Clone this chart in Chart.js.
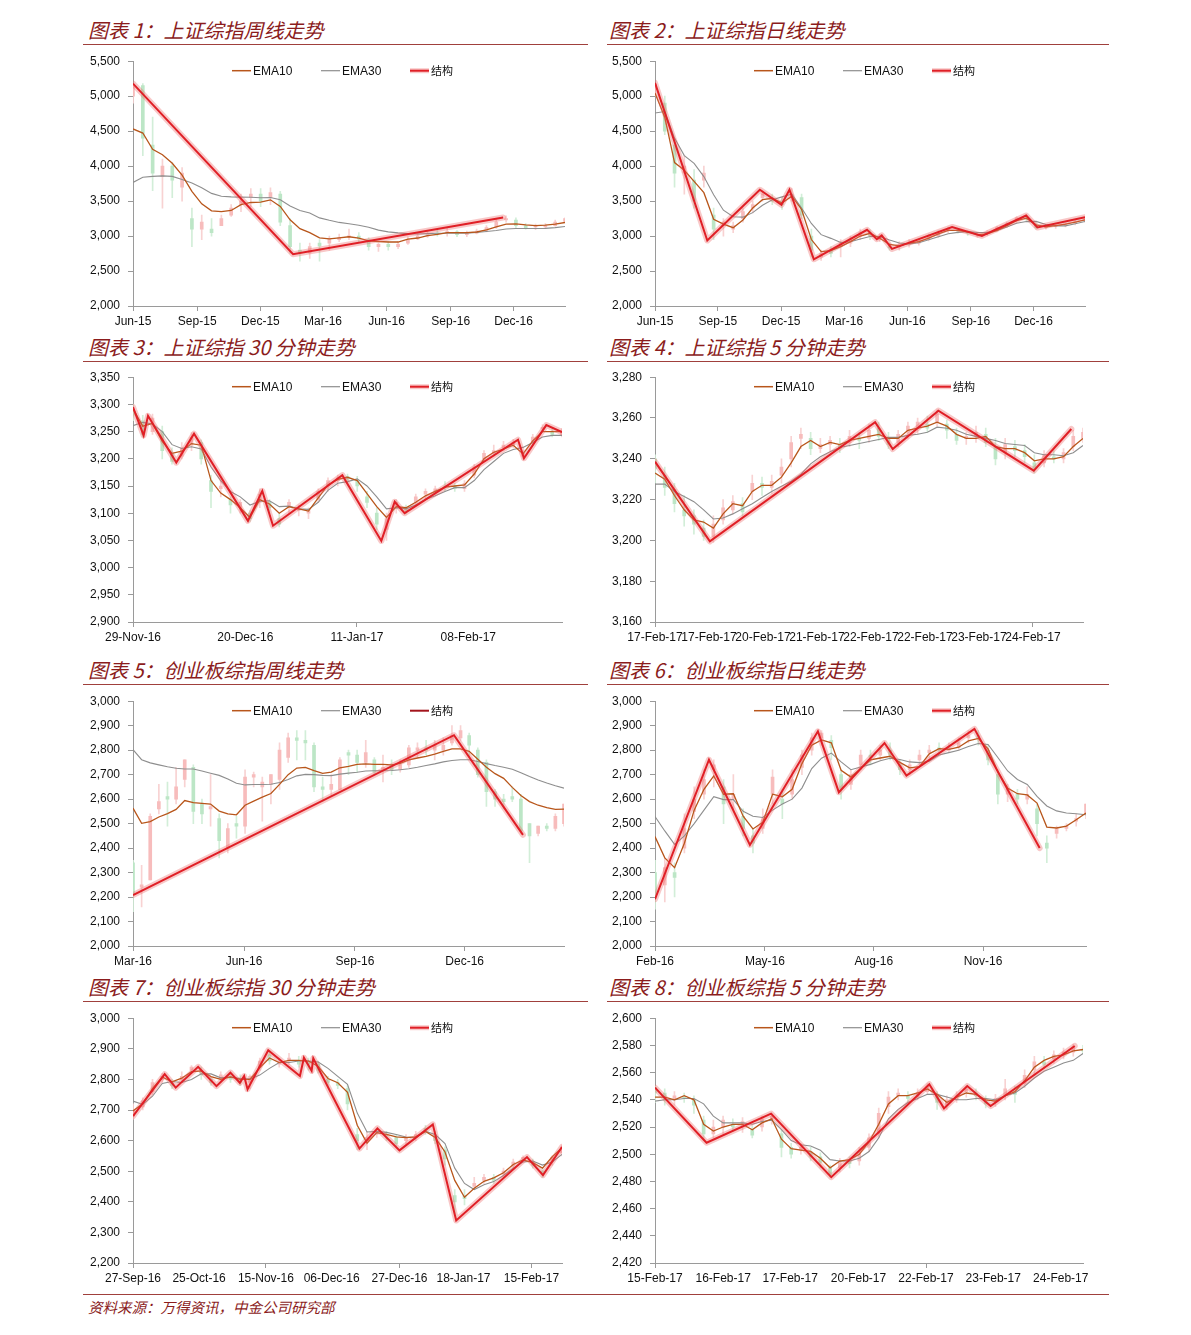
<!DOCTYPE html>
<html lang="zh-CN">
<head>
<meta charset="UTF-8" />
<title>上证综指 / 创业板综指 走势</title>
<script src="https://cdn.jsdelivr.net/npm/chart.js"></script>
<style>
  body {
    margin: 0;
    background: #fff;
    width: 1191px;
    height: 1335px;
    position: relative;
    overflow: hidden;
  }
  .title {
    position: absolute;
    font-family: "Noto Sans CJK SC", sans-serif;
    font-style: italic;
    font-size: 20px;
    line-height: 24px;
    color: #8b1c1c;
    white-space: nowrap;
  }
  .rule {
    position: absolute;
    height: 0;
    border-top: 1.5px solid #a0403c;
  }
  .source {
    position: absolute;
    left: 88px;
    top: 1297px;
    font-family: "Noto Sans CJK SC", sans-serif;
    font-style: italic;
    font-size: 14.5px;
    line-height: 20px;
    color: #8b1c1c;
  }
  canvas { position: absolute; }
</style>
</head>
<body>
  <div class="title" style="left:88px;top:18px">图表 1：上证综指周线走势</div>
  <div class="title" style="left:609px;top:18px">图表 2：上证综指日线走势</div>
  <div class="rule" style="left:83px;top:44px;width:505px"></div>
  <div class="rule" style="left:607px;top:44px;width:502px"></div>

  <div class="title" style="left:88px;top:335px">图表 3：上证综指 30 分钟走势</div>
  <div class="title" style="left:609px;top:335px">图表 4：上证综指 5 分钟走势</div>
  <div class="rule" style="left:83px;top:361px;width:505px"></div>
  <div class="rule" style="left:607px;top:361px;width:502px"></div>

  <div class="title" style="left:88px;top:658px">图表 5：创业板综指周线走势</div>
  <div class="title" style="left:609px;top:658px">图表 6：创业板综指日线走势</div>
  <div class="rule" style="left:83px;top:684px;width:505px"></div>
  <div class="rule" style="left:607px;top:684px;width:502px"></div>

  <div class="title" style="left:88px;top:975px">图表 7：创业板综指 30 分钟走势</div>
  <div class="title" style="left:609px;top:975px">图表 8：创业板综指 5 分钟走势</div>
  <div class="rule" style="left:83px;top:1001px;width:505px"></div>
  <div class="rule" style="left:607px;top:1001px;width:502px"></div>

  <div class="rule" style="left:83px;top:1294px;width:1026px"></div>
  <div class="source">资料来源：万得资讯，中金公司研究部</div>

<script>
// ---------- data: [open, close, high, low] candles, EMA lines, structure pivots ----------

// 图表1 上证综指周线 (one slot = two weeks)
const c1Ticks = [0, 6.54, 12.98, 19.35, 25.82, 32.36, 38.76];
const c1Labels = ['Jun-15', 'Sep-15', 'Dec-15', 'Mar-16', 'Jun-16', 'Sep-16', 'Dec-16'];
const c1Ohlc = [
  [5000,5150,5180,4900],[5150,4400,5180,4150],[4300,3900,4700,3650],[3850,4000,4100,3400],[4000,3800,4050,3550],
  [3700,3900,3980,3500],[3250,3100,3400,2850],[3100,3200,3300,2950],[3100,3050,3250,3000],[3150,3250,3300,3150],
  [3300,3400,3450,3280],[3450,3500,3600,3350],[3550,3600,3680,3420],[3600,3500,3680,3420],[3550,3620,3690,3450],
  [3600,3200,3640,3150],[3150,2850,3250,2750],[2800,2760,2900,2640],[2760,2850,2900,2680],[2900,2860,2950,2640],
  [2900,2960,3000,2800],[2950,2980,3030,2920],[2990,3000,3100,2950],[3000,2960,3050,2920],[2950,2850,2980,2800],
  [2850,2880,2900,2780],[2880,2850,2920,2800],[2850,2880,2920,2820],[2900,2950,2990,2880],[2960,3000,3050,2950],
  [3000,3020,3060,2980],[3040,3030,3100,3000],[3050,3060,3110,3000],[3060,3020,3080,2990],[3020,3040,3070,2990],
  [3040,3070,3100,3030],[3080,3120,3150,3060],[3130,3200,3250,3110],[3230,3250,3290,3200],[3230,3150,3260,3120],
  [3150,3120,3180,3100],[3130,3140,3170,3090],[3130,3150,3180,3110],[3150,3200,3230,3140],[3210,3250,3260,3190]
];
const c1Ema10 = [4531,4473,4240,4163,4040,3870,3640,3460,3360,3350,3366,3450,3480,3485,3518,3423,3232,3105,3050,2975,2960,2975,2990,2970,2930,2922,2915,2915,2955,2972,3005,3025,3050,3050,3050,3058,3090,3130,3170,3175,3160,3150,3155,3170,3194];
const c1Ema30 = [3767,3840,3853,3860,3853,3810,3760,3690,3610,3570,3560,3557,3555,3548,3550,3518,3430,3365,3330,3260,3225,3195,3175,3155,3125,3085,3060,3045,3035,3030,3035,3040,3041,3041,3041,3050,3065,3080,3100,3108,3108,3108,3110,3120,3136];
const c1PivotX = [0, 16.3, 37.7];
const c1PivotY = [5180, 2740, 3265];

// 图表2 上证综指日线
const c2Ticks = [0, 6.44, 12.91, 19.35, 25.82, 32.32, 38.73];
const c2Labels = ['Jun-15', 'Sep-15', 'Dec-15', 'Mar-16', 'Jun-16', 'Sep-16', 'Dec-16'];
const c2Ohlc = [
  [5100,5170,5180,5000],[4900,4500,5000,4450],[4300,3900,4400,3700],[3900,4000,4150,3600],[3800,3500,3950,3400],
  [3800,3900,4000,3700],[3300,3100,3400,2950],[3150,3200,3250,3000],[3100,3150,3200,3050],[3250,3350,3400,3200],
  [3400,3450,3500,3330],[3550,3600,3650,3500],[3550,3500,3600,3450],[3500,3450,3550,3380],[3550,3600,3680,3500],
  [3550,3300,3600,3250],[3000,2800,3100,2700],[2700,2750,2800,2650],[2800,2750,2850,2700],[2850,2900,2950,2700],
  [2900,2950,3000,2850],[3000,3050,3100,2950],[3050,3000,3090,2950],[2950,3000,3030,2920],[2850,2830,2900,2800],
  [2850,2880,2920,2800],[2880,2900,2950,2840],[2900,2930,2960,2870],[2950,3000,3030,2930],[3000,3050,3080,2980],
  [3080,3100,3130,3050],[3080,3070,3100,3040],[3050,3040,3080,3010],[3000,3020,3050,2980],[3040,3060,3080,3010],
  [3080,3120,3140,3060],[3150,3180,3200,3120],[3220,3260,3280,3200],[3260,3240,3300,3220],[3150,3120,3180,3100],
  [3120,3130,3160,3100],[3140,3150,3170,3110],[3150,3160,3190,3130],[3180,3200,3220,3160],[3220,3250,3270,3200]
];
const c2Ema10 = [5046,4700,4050,3940,3781,3620,3240,3170,3120,3230,3400,3520,3540,3471,3570,3380,2950,2778,2793,2850,2920,3000,3040,2969,2880,2860,2900,2920,2970,3030,3080,3080,3060,3020,3030,3080,3150,3220,3256,3160,3130,3150,3170,3200,3232];
const c2Ema30 = [4760,4780,4400,4150,4040,3850,3590,3370,3275,3270,3335,3440,3520,3560,3600,3400,3180,3020,2967,2907,2918,2958,2993,2993,2944,2900,2888,2905,2946,2990,3032,3052,3063,3050,3050,3080,3130,3184,3207,3210,3165,3146,3146,3175,3208];
const c2PivotX = [0, 5.35, 10.73, 12.94, 13.76, 16.25, 21.7, 22.7, 23.2, 24.25, 30.4, 33.45, 37.98, 39.13, 44];
const c2PivotY = [5190, 2936, 3662, 3447, 3662, 2668, 3089, 2955, 3010, 2817, 3130, 3003, 3294, 3122, 3270];

// 图表3 上证综指30分钟
const c3Ticks = [0, 11.52, 22.97, 34.39];
const c3Labels = ['29-Nov-16', '20-Dec-16', '11-Jan-17', '08-Feb-17'];
const c3Ohlc = [
  [3290,3280,3300,3270],[3270,3245,3280,3240],[3250,3275,3282,3245],[3250,3215,3260,3200],[3210,3195,3220,3190],
  [3205,3220,3230,3200],[3225,3240,3248,3215],[3230,3200,3235,3190],[3160,3140,3170,3110],[3145,3150,3160,3130],
  [3125,3115,3130,3100],[3110,3120,3125,3100],[3100,3090,3105,3085],[3120,3135,3145,3110],[3120,3110,3125,3100],
  [3090,3080,3100,3075],[3110,3120,3125,3100],[3105,3110,3115,3095],[3100,3105,3110,3090],[3125,3140,3145,3120],
  [3150,3160,3165,3140],[3160,3165,3170,3150],[3168,3162,3172,3155],[3160,3150,3168,3140],[3130,3120,3140,3110],
  [3100,3080,3110,3070],[3070,3090,3100,3050],[3110,3120,3125,3100],[3110,3105,3115,3098],[3120,3130,3135,3115],
  [3135,3140,3145,3125],[3140,3145,3150,3135],[3150,3148,3158,3140],[3150,3145,3155,3140],[3145,3155,3160,3140],
  [3170,3185,3190,3165],[3200,3210,3215,3195],[3210,3215,3225,3205],[3220,3225,3232,3215],[3225,3230,3236,3220],
  [3205,3210,3215,3200],[3230,3240,3245,3225],[3255,3258,3263,3250],[3250,3245,3255,3240],[3245,3252,3256,3240]
];
const c3Ema10 = [3292,3260,3265,3232,3210,3214,3228,3225,3160,3137,3125,3110,3092,3125,3117,3100,3112,3108,3104,3128,3152,3162,3166,3160,3136,3112,3092,3112,3110,3120,3132,3140,3148,3150,3152,3172,3200,3212,3218,3225,3209,3233,3250,3250,3250];
const c3Ema30 = [3261,3267,3264,3250,3226,3219,3222,3218,3185,3160,3140,3130,3115,3122,3123,3112,3113,3108,3107,3120,3142,3155,3158,3163,3150,3130,3108,3110,3108,3115,3125,3132,3140,3147,3147,3160,3180,3195,3210,3217,3221,3230,3240,3243,3243];
const c3PivotX = [0, 1.09, 1.54, 4.44, 6.26, 11.79, 13.26, 14.36, 21.47, 25.47, 26.84, 27.86, 39.49, 40.1, 42.39, 44];
const c3PivotY = [3295, 3243, 3279, 3193, 3246, 3086, 3141, 3077, 3170, 3049, 3121, 3100, 3235, 3201, 3262, 3249];

// 图表4 上证综指5分钟
const c4Ticks = [0, 5.55, 11.1, 16.65, 22.2, 27.75, 33.3, 38.85];
const c4Labels = ['17-Feb-17', '17-Feb-17', '20-Feb-17', '21-Feb-17', '22-Feb-17', '22-Feb-17', '23-Feb-17', '24-Feb-17'];
const c4Ohlc = [
  [3240,3235,3242,3228],[3232,3226,3236,3222],[3225,3218,3228,3214],[3215,3212,3222,3207],[3212,3208,3215,3203],
  [3206,3202,3210,3200],[3202,3208,3212,3199],[3210,3216,3220,3208],[3215,3219,3222,3213],[3218,3214,3221,3212],
  [3224,3228,3232,3220],[3228,3226,3231,3222],[3226,3229,3232,3223],[3232,3236,3240,3228],[3240,3248,3251,3236],
  [3250,3252,3255,3245],[3250,3245,3253,3242],[3245,3247,3250,3243],[3247,3249,3251,3244],[3247,3245,3250,3243],
  [3248,3251,3254,3246],[3250,3249,3253,3245],[3250,3254,3257,3248],[3255,3251,3258,3249],[3250,3247,3253,3245],
  [3248,3252,3254,3246],[3253,3256,3258,3250],[3255,3258,3260,3252],[3257,3255,3261,3253],[3258,3262,3264,3256],
  [3257,3254,3259,3250],[3252,3249,3255,3247],[3250,3251,3253,3247],[3251,3253,3256,3248],[3252,3248,3255,3246],
  [3246,3240,3250,3237],[3243,3247,3250,3240],[3246,3244,3249,3241],[3244,3241,3247,3238],[3238,3235,3242,3233],
  [3238,3242,3244,3236],[3241,3240,3244,3238],[3240,3243,3245,3238],[3246,3251,3254,3244],[3250,3253,3255,3248]
];
const c4Ema10 = [3233,3230,3222,3215,3210,3209,3206,3213,3218,3217,3224,3227,3227,3231,3238,3246,3249,3246,3248,3247,3249,3250,3251,3252,3250,3250,3254,3255,3256,3258,3256,3252,3250,3250,3251,3246,3245,3245,3243,3239,3240,3240,3241,3246,3250];
const c4Ema30 = [3227.6,3227.6,3224,3221.5,3219,3215,3210.5,3211,3213,3215.5,3218,3221,3224,3226.5,3229,3232.5,3237.5,3241,3243.5,3245.5,3246.5,3247.5,3248.5,3249.5,3250.5,3250.5,3251.5,3252,3253,3255.5,3255,3254,3252,3251,3250,3249,3247.5,3247,3246.5,3243,3242,3242,3241.5,3243,3246.5];
const c4PivotX = [0, 5.64, 22.63, 24.44, 29.13, 38.94, 42.8];
const c4PivotY = [3238.6, 3199.5, 3257.9, 3244.8, 3263.6, 3234.2, 3254.6];

// 图表5 创业板综指周线
const c5Ticks = [0, 12.88, 25.75, 38.48];
const c5Labels = ['Mar-16', 'Jun-16', 'Sep-16', 'Dec-16'];
const c5Ohlc = [
  [2340,2210,2350,2140],[2240,2250,2330,2160],[2270,2530,2540,2270],[2560,2590,2660,2540],[2610,2600,2670,2490],
  [2600,2650,2730,2580],[2680,2760,2760,2650],[2730,2550,2740,2500],[2580,2540,2600,2500],[2560,2570,2700,2490],
  [2520,2430,2540,2360],[2400,2480,2500,2380],[2500,2490,2530,2440],[2490,2690,2720,2460],[2690,2700,2710,2650],
  [2650,2670,2690,2510],[2660,2700,2700,2580],[2680,2800,2830,2640],[2770,2850,2870,2750],[2850,2840,2880,2760],
  [2840,2830,2880,2760],[2820,2650,2830,2630],[2650,2640,2690,2590],[2640,2660,2700,2610],[2640,2760,2770,2640],
  [2790,2780,2800,2700],[2780,2750,2800,2710],[2750,2790,2840,2730],[2760,2710,2770,2700],[2720,2730,2780,2670],
  [2740,2720,2760,2700],[2720,2740,2760,2710],[2740,2810,2820,2730],[2800,2810,2830,2770],[2810,2800,2840,2780],
  [2800,2820,2840,2760],[2800,2820,2850,2780],[2830,2860,2900,2820],[2850,2880,2900,2840],[2860,2820,2870,2770],
  [2800,2700,2810,2690],[2750,2630,2760,2570],[2630,2600,2640,2570],[2600,2590,2620,2560],[2610,2600,2650,2590],
  [2600,2470,2620,2460],[2500,2450,2500,2340],[2460,2490,2490,2450],[2490,2480,2500,2470],[2480,2530,2540,2470],
  [2500,2580,2580,2490]
];
const c5Ema10 = [2563,2501,2508,2527,2541,2558,2594,2586,2583,2580,2551,2540,2536,2575,2592,2608,2623,2660,2700,2727,2730,2716,2705,2710,2728,2734,2742,2744,2742,2742,2740,2746,2760,2768,2775,2784,2795,2805,2805,2795,2763,2730,2704,2685,2648,2615,2590,2575,2565,2558,2559];
const c5Ema30 = [2802,2761,2748,2740,2732,2726,2723,2723,2715,2706,2697,2682,2665,2658,2660,2660,2661,2668,2680,2695,2701,2700,2697,2696,2702,2706,2710,2715,2716,2716,2717,2720,2724,2730,2737,2744,2752,2758,2761,2761,2754,2745,2737,2730,2722,2708,2692,2678,2666,2655,2645];
const c5PivotX = [0, 37.24, 45.24];
const c5PivotY = [2208, 2861, 2454];

// 图表6 创业板综指日线
const c6Ticks = [0, 11.22, 22.34, 33.49];
const c6Labels = ['Feb-16', 'May-16', 'Aug-16', 'Nov-16'];
const c6Ohlc = [
  [2300,2200,2350,2150],[2250,2320,2360,2180],[2300,2280,2340,2200],[2400,2480,2540,2380],[2550,2600,2650,2520],
  [2620,2680,2720,2600],[2720,2740,2760,2650],[2650,2580,2680,2500],[2600,2620,2700,2560],[2530,2480,2560,2450],
  [2450,2420,2480,2380],[2480,2520,2560,2460],[2620,2690,2720,2580],[2600,2580,2640,2520],[2620,2680,2720,2600],
  [2730,2780,2800,2700],[2800,2850,2870,2780],[2850,2870,2880,2820],[2840,2810,2860,2760],[2700,2640,2720,2600],
  [2660,2700,2720,2640],[2740,2780,2800,2720],[2780,2770,2800,2740],[2780,2800,2820,2760],[2800,2780,2830,2760],
  [2740,2720,2760,2700],[2720,2740,2760,2700],[2760,2780,2800,2740],[2790,2800,2820,2770],[2810,2800,2830,2780],
  [2800,2810,2830,2790],[2810,2830,2850,2800],[2850,2860,2880,2830],[2860,2850,2880,2820],[2800,2760,2820,2740],
  [2700,2620,2720,2580],[2620,2640,2660,2590],[2620,2600,2640,2580],[2600,2620,2650,2580],[2560,2500,2580,2450],
  [2420,2400,2450,2340],[2460,2480,2490,2440],[2480,2490,2500,2470],[2510,2520,2540,2490],[2540,2580,2580,2520]
];
const c6Ema10 = [2447,2360,2320,2420,2555,2640,2695,2620,2622,2530,2478,2505,2620,2610,2640,2745,2820,2842,2830,2718,2690,2725,2760,2768,2775,2750,2728,2733,2785,2806,2803,2812,2838,2848,2805,2712,2645,2622,2617,2584,2486,2482,2490,2516,2543];
const c6Ema30 = [2529,2470,2415,2450,2500,2555,2610,2598,2598,2550,2530,2525,2555,2580,2600,2645,2725,2767,2788,2752,2720,2731,2742,2757,2767,2762,2752,2749,2755,2780,2790,2800,2815,2827,2823,2770,2715,2680,2660,2611,2572,2552,2543,2540,2536];
const c6PivotX = [0, 5.51, 9.69, 16.63, 18.77, 23.43, 25.67, 32.61, 39.27];
const c6PivotY = [2191, 2761, 2413, 2877, 2628, 2829, 2696, 2887, 2400];

// 图表7 创业板综指30分钟
const c7Ticks = [0, 6.78, 13.63, 20.38, 27.33, 33.9, 40.86];
const c7Labels = ['27-Sep-16', '25-Oct-16', '15-Nov-16', '06-Dec-16', '27-Dec-16', '18-Jan-17', '15-Feb-17'];
const c7Ohlc = [
  [2680,2700,2720,2670],[2710,2730,2740,2700],[2760,2790,2800,2750],[2800,2810,2820,2790],[2790,2780,2800,2770],
  [2800,2810,2825,2790],[2830,2840,2845,2820],[2830,2815,2840,2800],[2800,2790,2810,2780],[2800,2815,2825,2790],
  [2810,2800,2820,2790],[2800,2790,2815,2780],[2790,2810,2815,2770],[2840,2860,2870,2830],[2880,2860,2895,2850],
  [2850,2855,2870,2840],[2860,2870,2885,2850],[2860,2850,2875,2840],[2860,2850,2870,2830],[2850,2830,2860,2820],
  [2800,2790,2810,2780],[2790,2780,2800,2770],[2770,2720,2780,2700],[2620,2600,2640,2570],[2600,2610,2630,2570],
  [2620,2630,2640,2610],[2620,2615,2630,2600],[2610,2590,2620,2580],[2600,2610,2620,2590],[2610,2620,2630,2600],
  [2640,2630,2650,2620],[2620,2600,2630,2590],[2570,2540,2580,2520],[2420,2400,2440,2360],[2420,2410,2440,2390],
  [2450,2460,2480,2440],[2470,2480,2490,2460],[2480,2470,2490,2460],[2490,2500,2510,2480],[2520,2530,2540,2510],
  [2540,2545,2550,2530],[2530,2520,2540,2510],[2500,2490,2510,2480],[2530,2545,2550,2520],[2560,2580,2585,2550]
];
const c7Ema10 = [2697,2720,2770,2808,2792,2804,2825,2828,2809,2800,2808,2800,2800,2838,2870,2855,2862,2862,2860,2842,2803,2789,2758,2650,2592,2626,2620,2612,2610,2612,2630,2610,2563,2470,2415,2444,2467,2478,2495,2522,2537,2528,2510,2547,2577];
const c7Ema30 = [2729,2718,2745,2787,2793,2790,2800,2818,2818,2805,2808,2803,2801,2814,2836,2855,2855,2860,2860,2857,2836,2810,2784,2690,2628,2630,2627,2620,2612,2610,2630,2620,2590,2510,2460,2440,2456,2466,2486,2510,2530,2533,2520,2530,2555];
const c7PivotX = [0, 3.25, 4.38, 6.68, 8.56, 9.99, 10.96, 11.4, 11.75, 13.87, 17.12, 17.53, 18.32, 18.49, 23.22, 25.07, 27.33, 30.75, 33.15, 40.41, 42.05, 44];
const c7PivotY = [2680, 2817, 2773, 2841, 2778, 2822, 2789, 2811, 2768, 2895, 2811, 2871, 2828, 2869, 2574, 2640, 2568, 2653, 2339, 2546, 2487, 2579];

// 图表8 创业板综指5分钟
const c8Ticks = [0, 7.01, 13.9, 20.92, 27.86, 34.77, 41.71];
const c8Labels = ['15-Feb-17', '16-Feb-17', '17-Feb-17', '20-Feb-17', '22-Feb-17', '23-Feb-17', '24-Feb-17'];
const c8Ohlc = [
  [2549,2545,2550,2538],[2545,2540,2548,2536],[2540,2543,2546,2536],[2542,2541,2545,2538],[2540,2536,2543,2530],
  [2525,2515,2528,2510],[2515,2520,2525,2512],[2520,2525,2528,2515],[2522,2520,2526,2517],[2520,2524,2527,2516],
  [2518,2514,2521,2512],[2520,2526,2528,2517],[2526,2528,2530,2522],[2515,2505,2518,2498],[2505,2500,2508,2497],
  [2503,2505,2508,2500],[2502,2498,2505,2495],[2498,2494,2501,2490],[2490,2485,2492,2483],[2490,2495,2497,2487],
  [2495,2493,2498,2490],[2495,2502,2505,2492],[2505,2512,2515,2502],[2515,2530,2534,2512],[2535,2542,2546,2530],
  [2543,2545,2548,2540],[2543,2541,2546,2538],[2542,2545,2548,2540],[2546,2550,2552,2544],[2544,2538,2546,2533],
  [2536,2540,2543,2533],[2540,2543,2546,2538],[2546,2548,2550,2542],[2545,2543,2548,2540],[2540,2537,2543,2534],
  [2538,2541,2544,2535],[2543,2548,2555,2540],[2546,2544,2550,2538],[2552,2558,2562,2549],[2562,2568,2572,2558],
  [2568,2566,2572,2563],[2570,2573,2576,2567],[2573,2575,2578,2570],[2575,2579,2581,2572],[2577,2576,2580,2574]
];
const c8Ema10 = [2542,2542,2540,2543,2540,2522,2517,2520,2522,2522,2518,2523,2526,2511,2504,2503,2502,2497,2490,2495,2496,2500,2509,2522,2537,2543,2543,2545,2548,2544,2538,2542,2545,2544,2540,2539,2543,2546,2554,2564,2569,2572,2573,2576,2577];
const c8Ema30 = [2539,2540,2540,2541,2541,2537,2528,2523,2523,2523,2522,2524,2525,2518,2510,2507,2506,2503,2496,2495,2495,2497,2502,2512,2526,2533,2538,2541,2544,2544,2542,2540,2540,2541,2541,2540,2543,2545,2550,2556,2561,2564,2567,2569,2574];
const c8PivotX = [0, 5.3, 11.93, 18.12, 28.2, 29.71, 32.1, 34.5, 43.15];
const c8PivotY = [2549, 2508.4, 2529.8, 2483.1, 2551.4, 2533.7, 2550.1, 2535.4, 2579.6];

// ---------- styling ----------
const EMA10_COLOR = '#b8561b';
const EMA30_COLOR = '#8e8e8e';
const STRUCT_COLOR = '#e01f26';
const STRUCT_GLOW = 'rgba(236, 96, 96, 0.35)';
const UP_BODY = '#f7bcbc', DN_BODY = '#bce6c6';
const UP_WICK = '#f8d2d2', DN_WICK = '#d2eed8';
const AXIS_COLOR = '#9a9a9a';

Chart.defaults.font.family = '"Liberation Sans", Arial, sans-serif';
Chart.defaults.font.size = 12;
Chart.defaults.color = '#111';

// legend drawn inside the top of the plot, like the original
const topLegend = {
  id: 'topLegend',
  afterDatasetsDraw(chart, args, opts) {
    const { ctx, chartArea } = chart;
    const y = chartArea.top + 9.5;
    let x = chartArea.left + 99;
    ctx.save();
    ctx.textBaseline = 'middle';
    opts.items.forEach(it => {
      if (it.glow) {
        ctx.strokeStyle = STRUCT_GLOW;
        ctx.lineWidth = 5;
        ctx.beginPath(); ctx.moveTo(x, y); ctx.lineTo(x + 19, y); ctx.stroke();
      }
      ctx.strokeStyle = it.color;
      ctx.lineWidth = it.width;
      ctx.beginPath(); ctx.moveTo(x, y); ctx.lineTo(x + 19, y); ctx.stroke();
      ctx.fillStyle = '#111';
      ctx.font = it.cjk ? '11px "Noto Sans CJK SC", sans-serif' : '12px "Liberation Sans", Arial, sans-serif';
      ctx.fillText(it.text, x + 21, y + 0.5);
      x += 89;
    });
    ctx.restore();
  }
};

function panel(p) {
  const cLeft = p.col === 0 ? 83 : 607;
  const cWidth = p.col === 0 ? 515 : 505;
  const padTop = 12, extraTop = 4, axisH = 30;
  const canvas = document.createElement('canvas');
  canvas.width = cWidth;
  canvas.height = (p.bottom - p.top) + padTop + extraTop + axisH;
  canvas.style.left = cLeft + 'px';
  canvas.style.top = (p.top - padTop - extraTop) + 'px';
  document.body.appendChild(canvas);

  const n = p.ohlc.length;
  const bodies = p.ohlc.map((d, i) => ({ x: i, y: [d[0], d[1]] }));
  const wicks = p.ohlc.map((d, i) => ({ x: i, y: [d[3], d[2]] }));
  const bodyColors = p.ohlc.map(d => d[1] >= d[0] ? UP_BODY : DN_BODY);
  const wickColors = p.ohlc.map(d => d[1] >= d[0] ? UP_WICK : DN_WICK);
  const structure = p.pivX.map((x, k) => ({ x: x, y: p.pivY[k] }));

  new Chart(canvas, {
    type: 'bar',
    data: {
      datasets: [
        { type: 'bar', data: wicks, backgroundColor: wickColors, barThickness: 1, grouped: false, order: 11 },
        { type: 'bar', data: bodies, backgroundColor: bodyColors, barThickness: p.bodyW || 3, minBarLength: 1, grouped: false, order: 10 },
        { type: 'line', label: 'EMA30', data: p.ema30.map((v, i) => ({ x: i, y: v })), borderColor: EMA30_COLOR, borderWidth: 1.1, pointRadius: 0, tension: 0, order: 4 },
        { type: 'line', label: 'EMA10', data: p.ema10.map((v, i) => ({ x: i, y: v })), borderColor: EMA10_COLOR, borderWidth: 1.3, pointRadius: 0, tension: 0, order: 3 },
        { type: 'line', data: structure, borderColor: STRUCT_GLOW, borderWidth: 6, borderJoinStyle: 'round', borderCapStyle: 'round', pointRadius: 0, tension: 0, order: 2 },
        { type: 'line', label: '结构', data: structure, borderColor: STRUCT_COLOR, borderWidth: 2, pointRadius: 0, tension: 0, order: 1 }
      ]
    },
    options: {
      responsive: false,
      animation: false,
      layout: { padding: { top: padTop, right: cLeft + cWidth - p.right, bottom: 0, left: 0 } },
      plugins: {
        legend: { display: false },
        tooltip: { enabled: false },
        topLegend: {
          items: [
            { text: 'EMA10', color: EMA10_COLOR, width: 1.5 },
            { text: 'EMA30', color: EMA30_COLOR, width: 1.2 },
            { text: '结构', color: p.legendRed || STRUCT_COLOR, width: 2, glow: !p.legendRed, cjk: true }
          ]
        }
      },
      scales: {
        x: {
          type: 'linear',
          min: 0,
          max: n - 1,
          offset: false,
          afterFit: s => { s.height = axisH; },
          afterBuildTicks: s => { s.ticks = p.ticks.map(v => ({ value: v })); },
          border: { color: AXIS_COLOR },
          grid: {
            offset: false,
            drawOnChartArea: false,
            tickLength: 5,
            color: c => (!p.marks || p.marks.includes(c.index)) ? AXIS_COLOR : 'rgba(0,0,0,0)'
          },
          ticks: {
            autoSkip: false,
            maxRotation: 0,
            minRotation: 0,
            padding: 3,
            callback: (v, i) => p.labels[i]
          }
        },
        y: {
          min: p.yMin,
          max: p.yMax,
          afterFit: s => { s.width = p.left - cLeft; },
          border: { color: AXIS_COLOR },
          grid: { drawOnChartArea: false, tickLength: 5, color: AXIS_COLOR },
          ticks: {
            stepSize: p.yStep,
            padding: 8,
            callback: v => v.toLocaleString('en-US')
          }
        }
      }
    },
    plugins: [topLegend]
  });
}

panel({ col: 0, left: 133, top: 62, right: 565, bottom: 306, yMin: 2000, yMax: 5500, yStep: 500,
  ohlc: c1Ohlc, ema10: c1Ema10, ema30: c1Ema30, pivX: c1PivotX, pivY: c1PivotY, ticks: c1Ticks, labels: c1Labels });
panel({ col: 1, left: 655, top: 62, right: 1085, bottom: 306, yMin: 2000, yMax: 5500, yStep: 500,
  ohlc: c2Ohlc, ema10: c2Ema10, ema30: c2Ema30, pivX: c2PivotX, pivY: c2PivotY, ticks: c2Ticks, labels: c2Labels });
panel({ col: 0, left: 133, top: 378, right: 562, bottom: 622, yMin: 2900, yMax: 3350, yStep: 50,
  ohlc: c3Ohlc, ema10: c3Ema10, ema30: c3Ema30, pivX: c3PivotX, pivY: c3PivotY, ticks: c3Ticks, labels: c3Labels, marks: [0, 2] });
panel({ col: 1, left: 655, top: 378, right: 1083, bottom: 622, yMin: 3160, yMax: 3280, yStep: 20,
  ohlc: c4Ohlc, ema10: c4Ema10, ema30: c4Ema30, pivX: c4PivotX, pivY: c4PivotY, ticks: c4Ticks, labels: c4Labels, marks: [0, 7] });
panel({ col: 0, left: 133, top: 702, right: 564, bottom: 946, yMin: 2000, yMax: 3000, yStep: 100,
  ohlc: c5Ohlc, ema10: c5Ema10, ema30: c5Ema30, pivX: c5PivotX, pivY: c5PivotY, ticks: c5Ticks, labels: c5Labels, legendRed: '#a3141c' });
panel({ col: 1, left: 655, top: 702, right: 1086, bottom: 946, yMin: 2000, yMax: 3000, yStep: 100,
  ohlc: c6Ohlc, ema10: c6Ema10, ema30: c6Ema30, pivX: c6PivotX, pivY: c6PivotY, ticks: c6Ticks, labels: c6Labels });
panel({ col: 0, left: 133, top: 1019, right: 562, bottom: 1263, yMin: 2200, yMax: 3000, yStep: 100,
  ohlc: c7Ohlc, ema10: c7Ema10, ema30: c7Ema30, pivX: c7PivotX, pivY: c7PivotY, ticks: c7Ticks, labels: c7Labels, marks: [0, 2, 4, 6] });
panel({ col: 1, left: 655, top: 1019, right: 1083, bottom: 1263, yMin: 2420, yMax: 2600, yStep: 20,
  ohlc: c8Ohlc, ema10: c8Ema10, ema30: c8Ema30, pivX: c8PivotX, pivY: c8PivotY, ticks: c8Ticks, labels: c8Labels, marks: [0, 4] });
</script>
</body>
</html>
